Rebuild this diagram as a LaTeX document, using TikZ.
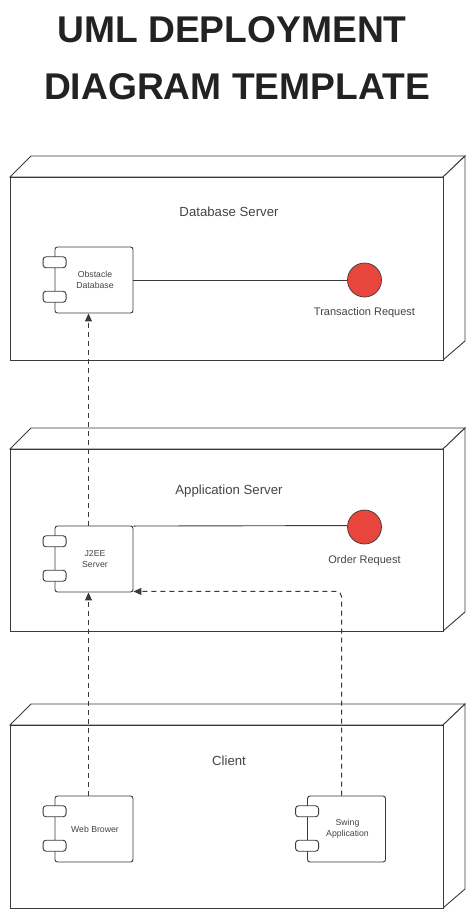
\documentclass[tikz,border=0pt]{standalone}
\usepackage{fontspec}
\setmainfont{Liberation Sans}
\usetikzlibrary{arrows.meta,calc}
\definecolor{ln}{HTML}{3A3A3A}
\definecolor{tx}{HTML}{444444}
\definecolor{rd}{HTML}{E8453C}
\definecolor{ttlc}{HTML}{222222}
\tikzset{
 box/.style={draw=ln, line width=0.9pt, fill=white},
 front/.style={draw=ln, line width=0.9pt, fill=white, inner sep=0pt},
 comp/.style={draw=ln, line width=0.9pt, rounded corners=2.5pt, minimum width=78pt, minimum height=66pt, inner sep=0pt, align=center, font=\fontsize{8.7}{10.7}\selectfont, text=tx, fill=white},
 port/.style={draw=ln, line width=0.9pt, rounded corners=3pt, minimum width=23pt, minimum height=11pt, inner sep=0pt, fill=white},
 iface/.style={circle, draw=ln, fill=rd, minimum size=34pt, inner sep=0pt, line width=0.7pt},
 dep/.style={draw=ln, line width=1pt, dash pattern=on 5pt off 4pt, -{Triangle[length=8pt,width=7pt]}},
 lbl/.style={text=tx, font=\fontsize{11}{13}\selectfont},
 ttl/.style={text=tx, font=\fontsize{13.2}{16}\selectfont},
 big/.style={text=ttlc, font=\fontsize{37.2}{40}\selectfont\bfseries, anchor=base},
}
\newcommand\mybox[5]{% name, x1, y1, x2, y2
 \draw[box] (#2,#3) -- (#2+21,#3-21) -- (#4+22,#3-21) -- (#4,#3) -- cycle;
 \draw[box] (#4,#3) -- (#4+22,#3-21) -- (#4+22,#5-19) -- (#4,#5) -- cycle;
 \node[front, minimum width=#4-#2, minimum height=#5-#3, anchor=north west] (#1) at (#2,#3) {};
}
\newcommand\myports[1]{%
 \node[port] (#1p1) at ($(#1.north west)!0.235!(#1.south west)$) {};
 \node[port] (#1p2) at ($(#1.north west)!0.75!(#1.south west)$) {};
}
\begin{document}
\begin{tikzpicture}[x=1pt,y=-1pt]
\useasboundingbox (0,0) rectangle (474,915);
\node[big] (t1) at (232,43) {UML DEPLOYMENT};
\node[big] (t2) at (237,100) {DIAGRAM TEMPLATE};

\mybox{dbs}{10}{177}{443}{360}
\mybox{aps}{10}{449}{443}{631}
\mybox{cli}{10}{725}{443}{908}

\node[ttl] (dbt) at (229,212) {Database Server};
\node[ttl] (apt) at (229,491) {Application Server};
\node[ttl] (clt) at (229,761) {Client};

\node[comp] (odb) at (94,280) {\hspace*{2pt}Obstacle\\\hspace*{2pt}Database};
\myports{odb}
\node[comp] (j2ee) at (94,559) {\hspace*{2pt}J2EE\\\hspace*{2pt}Server};
\myports{j2ee}
\node[comp] (web) at (94,829) {\hspace*{2pt}Web Brower};
\myports{web}
\node[comp] (swing) at (346.5,829) {\hspace*{2pt}Swing\\\hspace*{2pt}Application};
\myports{swing}

\node[iface] (treq) at (364.5,280) {};
\node[lbl] (treql) at (364.5,313) {Transaction Request};
\node[iface] (oreq) at (364.5,527) {};
\node[lbl] (oreql) at (364.5,561) {Order Request};

\draw[ln, line width=0.9pt] (odb.east) -- (treq.west);
\draw[ln, line width=0.9pt] ([yshift=-0.5pt]j2ee.north east) -- (oreq.west |- j2ee.north east);

\draw[dep] (j2ee.north -| 88.5,0) -- (odb.south -| 88.5,0);
\draw[dep] (web.north -| 88.5,0) -- (j2ee.south -| 88.5,0);
\draw[dep, rounded corners=5pt] (swing.north -| 341.5,0) |- ([yshift=1pt]j2ee.south east);
\end{tikzpicture}
\end{document}
